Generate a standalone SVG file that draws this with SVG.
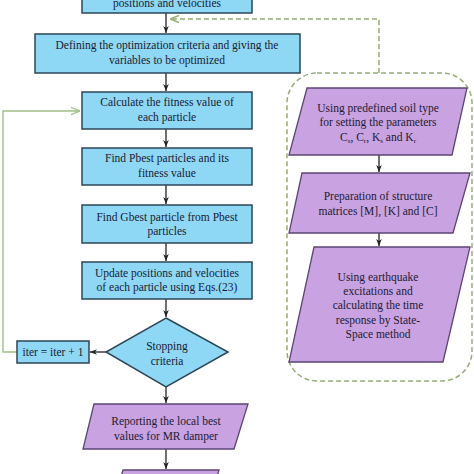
<svg xmlns="http://www.w3.org/2000/svg" width="474" height="474" viewBox="0 0 474 474">
<defs>
<style>
.b{fill:#8ed8f6;stroke:#2d4656;stroke-width:1.5}
.p{fill:#c9a2e2;stroke:#5b4673;stroke-width:1.3}
.t{font-family:"Liberation Serif","Times New Roman",serif;font-size:11.5px;fill:#1a2030;text-anchor:middle}
.c{stroke:#222;stroke-width:1.3;fill:none}
.g{stroke:#a3bd88;stroke-width:1.4;fill:none}
.gd{stroke:#98ad7a;stroke-width:1.5;fill:none;stroke-dasharray:5,3}
</style>
<marker id="ah" viewBox="0 0 10 10" refX="10" refY="5" markerWidth="7" markerHeight="7" markerUnits="userSpaceOnUse" orient="auto">
<path d="M0,1 L10,5 L0,9 L3,5 Z" fill="#222"/>
</marker>
<marker id="ga" viewBox="0 0 10 10" refX="10" refY="5" markerWidth="9" markerHeight="9" markerUnits="userSpaceOnUse" orient="auto">
<path d="M0,1 L10,5 L0,9" fill="none" stroke="#a3bd88" stroke-width="1.4"/>
</marker>
<marker id="gda" viewBox="0 0 10 10" refX="10" refY="5" markerWidth="9" markerHeight="9" markerUnits="userSpaceOnUse" orient="auto">
<path d="M0,1 L10,5 L0,9" fill="none" stroke="#98ad7a" stroke-width="1.5"/>
</marker>
</defs>
<rect width="474" height="474" fill="#fff"/>

<g id="group-right">
<rect x="287" y="73" width="185" height="308" rx="30" ry="30" class="gd"/>
</g>

<g id="connectors">
<line x1="166" y1="13" x2="166" y2="33" class="c" marker-end="url(#ah)"/>
<line x1="166" y1="73" x2="166" y2="91" class="c" marker-end="url(#ah)"/>
<line x1="166" y1="129" x2="166" y2="147" class="c" marker-end="url(#ah)"/>
<line x1="166" y1="185" x2="166" y2="204" class="c" marker-end="url(#ah)"/>
<line x1="166" y1="243" x2="166" y2="261" class="c" marker-end="url(#ah)"/>
<line x1="166" y1="299" x2="166" y2="317" class="c" marker-end="url(#ah)"/>
<line x1="166" y1="387" x2="166" y2="403" class="c" marker-end="url(#ah)"/>
<line x1="166" y1="449" x2="166" y2="469" class="c" marker-end="url(#ah)"/>
<line x1="106" y1="352" x2="90" y2="352" class="c" marker-end="url(#ah)"/>
<line x1="379" y1="155" x2="379" y2="172" class="c" marker-end="url(#ah)"/>
<line x1="379" y1="233" x2="379" y2="246" class="c" marker-end="url(#ah)"/>
<polyline points="17,352 3,352 3,111 80,111" class="g" marker-end="url(#ga)"/>
<polyline points="379,73 379,19 170,19" class="gd" marker-end="url(#gda)"/>
</g>

<g id="n-init">
<rect x="82" y="-20" width="170" height="33" class="b"/>
<text class="t" x="167" y="7">positions and velocities</text>
</g>
<g id="n-define">
<rect x="35" y="34" width="265" height="39" class="b"/>
<text class="t" x="167" y="49">Defining the optimization criteria and giving the</text>
<text class="t" x="167" y="64">variables to be optimized</text>
</g>
<g id="n-fitness">
<rect x="82" y="92" width="170" height="37" class="b"/>
<text class="t" x="167" y="106">Calculate the fitness value of</text>
<text class="t" x="167" y="121">each particle</text>
</g>
<g id="n-pbest">
<rect x="82" y="148" width="170" height="37" class="b"/>
<text class="t" x="167" y="162">Find Pbest particles and its</text>
<text class="t" x="167" y="177">fitness value</text>
</g>
<g id="n-gbest">
<rect x="82" y="205" width="170" height="38" class="b"/>
<text class="t" x="167" y="221">Find Gbest particle from Pbest</text>
<text class="t" x="167" y="235">particles</text>
</g>
<g id="n-update">
<rect x="82" y="262" width="170" height="37" class="b"/>
<text class="t" x="167" y="277">Update positions and velocities</text>
<text class="t" x="167" y="291">of each particle using Eqs.(23)</text>
</g>
<g id="n-stop">
<polygon points="166,318 228,352 166,387 106,352" class="b"/>
<text class="t" x="167" y="350">Stopping</text>
<text class="t" x="167" y="365">criteria</text>
</g>
<g id="n-iter">
<rect x="17" y="341" width="72" height="22" class="b"/>
<text class="t" x="53" y="356">iter = iter + 1</text>
</g>
<g id="n-report">
<polygon points="94,404 248,404 234,449 83,449" class="p"/>
<text class="t" x="166" y="425">Reporting the local best</text>
<text class="t" x="166" y="440">values for MR damper</text>
</g>
<g id="n-final">
<polygon points="123,470 219,470 216,480 120,480" class="p"/>
</g>

<g id="n-soil">
<polygon points="307,88 467,88 452,155 289,155" class="p"/>
<text class="t" x="378" y="112">Using predefined soil type</text>
<text class="t" x="378" y="126">for setting the parameters</text>
<text class="t" x="378" y="141">C<tspan font-size="7" dy="2">s</tspan><tspan dy="-2">, C</tspan><tspan font-size="7" dy="2">r</tspan><tspan dy="-2">, K</tspan><tspan font-size="7" dy="2">s</tspan><tspan dy="-2"> and K</tspan><tspan font-size="7" dy="2">r</tspan></text>
</g>
<g id="n-matrices">
<polygon points="302,173 470,173 453,233 289,233" class="p"/>
<text class="t" x="378" y="200">Preparation of structure</text>
<text class="t" x="378" y="215">matrices [M], [K] and [C]</text>
</g>
<g id="n-quake">
<polygon points="314,247 470,247 443,362 289,362" class="p"/>
<text class="t" x="378" y="281">Using earthquake</text>
<text class="t" x="378" y="295">excitations and</text>
<text class="t" x="378" y="309">calculating the time</text>
<text class="t" x="378" y="324">response by State-</text>
<text class="t" x="378" y="338">Space method</text>
</g>
</svg>
